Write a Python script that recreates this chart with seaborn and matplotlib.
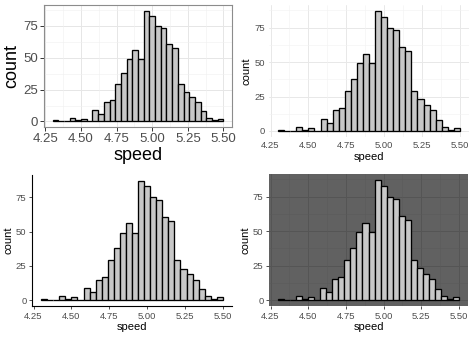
import numpy as np
import pandas as pd
import matplotlib
matplotlib.use("Agg")
import matplotlib.pyplot as plt
import seaborn as sns

# ---- data ----
bin_centers = [4.32, 4.36, 4.40, 4.44, 4.48, 4.52, 4.56, 4.60, 4.64, 4.68,
               4.72, 4.76, 4.80, 4.84, 4.88, 4.92, 4.96, 5.00, 5.04, 5.08,
               5.12, 5.16, 5.20, 5.24, 5.28, 5.32, 5.36, 5.40, 5.44, 5.48]
counts = [1, 0, 0, 3, 1, 2, 0, 9, 6, 15,
          17, 29, 38, 49, 56, 49, 87, 83, 75, 73,
          61, 58, 29, 23, 19, 15, 8, 3, 1, 2]
x_ticks = [4.25, 4.50, 4.75, 5.00, 5.25, 5.50]
x_tick_labels = ["4.25", "4.50", "4.75", "5.00", "5.25", "5.50"]
y_ticks = [0, 25, 50, 75]
x_minor = [4.375, 4.625, 4.875, 5.125, 5.375]
y_minor = [12.5, 37.5, 62.5, 87.5]

df = pd.DataFrame({"speed": bin_centers, "n": counts})
bin_width = 0.04
bin_range = (4.30, 5.50)

sns.set_theme(style="white")
plt.rcParams["font.family"] = ["Liberation Sans", "DejaVu Sans"]

W, H = 474, 338
fig = plt.figure(figsize=(W / 100, H / 100), dpi=100)


def add_ax(x0, x1, y0, y1):
    return fig.add_axes([x0 / W, 1 - y1 / H, (x1 - x0) / W, (y1 - y0) / H])


def draw(ax):
    sns.histplot(data=df, x="speed", weights="n", binwidth=bin_width,
                 binrange=bin_range, ax=ax,
                 color="#C8C8C8", edgecolor="black", linewidth=0.95,
                 alpha=1, zorder=3)
    ax.set_xlim(4.24, 5.56)
    ax.set_ylim(-4.35, 91.35)
    ax.set_xticks(x_ticks)
    ax.set_xticklabels(x_tick_labels)
    ax.set_yticks(y_ticks)
    ax.set_xlabel("speed", color="black")
    ax.set_ylabel("count", color="black")


def grid(ax, major_c, minor_c, lw_major=0.6, lw_minor=0.3):
    for v in x_ticks:
        ax.axvline(v, color=major_c, lw=lw_major, zorder=1)
    for v in y_ticks:
        ax.axhline(v, color=major_c, lw=lw_major, zorder=1)
    for v in x_minor:
        ax.axvline(v, color=minor_c, lw=lw_minor, zorder=1)
    for v in y_minor:
        ax.axhline(v, color=minor_c, lw=lw_minor, zorder=1)


# ---- panel 1: theme_bw with large text ----
ax1 = add_ax(44, 232, 5, 127)
draw(ax1)
grid(ax1, "#E6E6E6", "#F0F0F0", 0.7, 0.4)
for s in ax1.spines.values():
    s.set_visible(True)
    s.set_color("#8C8C8C")
    s.set_linewidth(0.8)
ax1.tick_params(axis="both", labelsize=9.5, labelcolor="#4D4D4D",
                length=3, width=0.7, color="#333333", direction="out",
                bottom=True, left=True, pad=1.5)
ax1.xaxis.label.set_size(13)
ax1.yaxis.label.set_size(13)
ax1.xaxis.labelpad = 1
ax1.yaxis.labelpad = 2

small_tick = 6.8
small_label = 8

# ---- panel 2: theme_minimal ----
ax2 = add_ax(269, 469, 5, 137)
draw(ax2)
grid(ax2, "#E8E8E8", "#F2F2F2", 0.7, 0.4)
for s in ax2.spines.values():
    s.set_visible(False)
ax2.tick_params(axis="both", labelsize=small_tick, labelcolor="#4D4D4D",
                length=0, pad=3)
ax2.xaxis.label.set_size(small_label)
ax2.yaxis.label.set_size(small_label)
ax2.xaxis.labelpad = 1
ax2.yaxis.labelpad = 2

# ---- panel 3: theme_classic ----
ax3 = add_ax(32, 232, 175, 306)
draw(ax3)
for side in ("top", "right"):
    ax3.spines[side].set_visible(False)
for side in ("left", "bottom"):
    ax3.spines[side].set_visible(True)
    ax3.spines[side].set_color("black")
    ax3.spines[side].set_linewidth(0.8)
ax3.tick_params(axis="both", labelsize=small_tick, labelcolor="#4D4D4D",
                length=2.5, width=0.6, color="#333333", direction="out",
                bottom=True, left=True, pad=1.5)
ax3.xaxis.label.set_size(small_label)
ax3.yaxis.label.set_size(small_label)
ax3.xaxis.labelpad = 1
ax3.yaxis.labelpad = 2

# ---- panel 4: theme_dark ----
ax4 = add_ax(269, 468, 174, 306)
draw(ax4)
ax4.set_facecolor("#616161")
grid(ax4, "#555555", "#5A5A5A", 0.7, 0.4)
for s in ax4.spines.values():
    s.set_visible(False)
ax4.tick_params(axis="both", labelsize=small_tick, labelcolor="#4D4D4D",
                length=2.5, width=0.6, color="#333333", direction="out",
                bottom=True, left=True, pad=1.5)
ax4.xaxis.label.set_size(small_label)
ax4.yaxis.label.set_size(small_label)
ax4.xaxis.labelpad = 1
ax4.yaxis.labelpad = 2

fig.savefig("out.png", dpi=100)
